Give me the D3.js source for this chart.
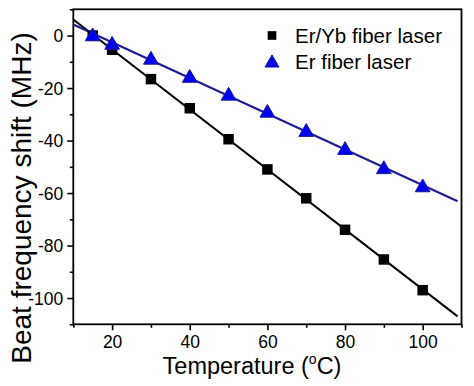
<!DOCTYPE html>
<html><head><meta charset="utf-8">
<script src="https://cdn.jsdelivr.net/npm/d3@7"></script>
<style>body{margin:0;background:#fff}svg{display:block;font-family:"Liberation Sans",Arial,sans-serif}</style>
</head><body>
<script>
const temps = [15, 20, 30, 40, 50, 60, 70, 80, 90, 100];
const erYb = [0, -5.4, -16.6, -27.7, -39.5, -51.0, -62.0, -74.0, -85.3, -97.0];
const er = [0, -3.2, -8.9, -15.8, -22.6, -29.1, -36.4, -43.3, -50.6, -57.5];
const xTicks = [20, 40, 60, 80, 100];
const yTicks = [0, -20, -40, -60, -80, -100];
const seriesNames = ["Er/Yb fiber laser", "Er fiber laser"];
const fitRange = [10, 109];

const W = 474, H = 386;
const m = {l: 73.3, t: 9.3, r: 474 - 461.5, b: 386 - 324.3};
const svg = d3.select("body").append("svg").attr("width", W).attr("height", H);
const x = d3.scaleLinear().domain([10, 110]).range([m.l, W - m.r]);
const y = d3.scaleLinear().domain([-110, 10]).range([H - m.b, m.t]);

function fit(xs, ys) {
  const n = xs.length, mx = d3.mean(xs), my = d3.mean(ys);
  let sxy = 0, sxx = 0;
  for (let i = 0; i < n; i++) { sxy += (xs[i]-mx)*(ys[i]-my); sxx += (xs[i]-mx)**2; }
  const b = sxy / sxx, a = my - b*mx;
  return fitRange.map(t => [t, a + b*t]);
}

// axes
const gx = svg.append("g").attr("transform", `translate(0,${H - m.b})`);
gx.call(d3.axisBottom(x).tickValues(d3.range(10, 111, 10)).tickSize(5).tickFormat(d => xTicks.includes(d) ? d : ""));
gx.selectAll(".tick line").attr("y2", d => xTicks.includes(d) ? 6 : 3.5);
const gy = svg.append("g").attr("transform", `translate(${m.l},0)`);
gy.call(d3.axisLeft(y).tickValues(d3.range(-110, 11, 10)).tickSize(5).tickFormat(d => yTicks.includes(d) ? d : ""));
gy.selectAll(".tick line").attr("x2", d => yTicks.includes(d) ? -6 : -3.5);
[gx, gy].forEach(g => {
  g.select(".domain").remove();
  g.selectAll(".tick line").attr("stroke", "#000").attr("stroke-width", 1.6);
  g.selectAll("text").attr("font-size", 17.5).attr("fill", "#000").attr("font-family", "Liberation Sans, Arial, sans-serif");
});
gx.selectAll("text").attr("dy", "0.71em").attr("y", 11);
gy.selectAll("text").attr("x", -10).attr("dy", "0.35em");

// frame
svg.append("rect").attr("x", m.l).attr("y", m.t).attr("width", W - m.r - m.l).attr("height", H - m.b - m.t)
  .attr("fill", "none").attr("stroke", "#000").attr("stroke-width", 1.8);

const line = d3.line().x(d => x(d[0])).y(d => y(d[1]));
const blueLine = "#1c1c94", blueFill = "#0000f0";

svg.append("path").datum(fit(temps, erYb)).attr("d", line).attr("fill", "none").attr("stroke", "#000").attr("stroke-width", 2);
svg.append("path").datum(fit(temps, er)).attr("d", line).attr("fill", "none").attr("stroke", blueLine).attr("stroke-width", 2.2);

const sq = d3.symbol().type(d3.symbolSquare).size(110);
const tri = d3.symbol().type(d3.symbolTriangle).size(95);

svg.append("g").selectAll("path").data(temps.map((t, i) => [t, erYb[i]])).join("path")
  .attr("d", sq).attr("transform", d => `translate(${x(d[0])},${y(d[1])})`).attr("fill", "#000");
svg.append("g").selectAll("path").data(temps.map((t, i) => [t, er[i]])).join("path")
  .attr("d", tri).attr("transform", d => `translate(${x(d[0])},${y(d[1]) + 1})`)
  .attr("fill", blueFill).attr("stroke", blueLine).attr("stroke-width", 1);

// legend
const lg = svg.append("g");
lg.append("path").attr("d", d3.symbol().type(d3.symbolSquare).size(75)).attr("transform", "translate(272,35.5)").attr("fill", "#000");
lg.append("path").attr("d", d3.symbol().type(d3.symbolTriangle).size(85)).attr("transform", "translate(272,63)").attr("fill", blueFill).attr("stroke", blueLine).attr("stroke-width", 1);
lg.append("text").attr("x", 295).attr("y", 42.5).attr("font-size", 20.5).text(seriesNames[0]);
lg.append("text").attr("x", 295).attr("y", 68.5).attr("font-size", 20.5).text(seriesNames[1]);

// axis titles
const xt = svg.append("text").attr("x", 252).attr("y", 374).attr("text-anchor", "middle").attr("font-size", 23.5);
xt.append("tspan").text("Temperature (");
xt.append("tspan").attr("font-size", 14).attr("dy", -10).text("o");
xt.append("tspan").attr("dy", 10).text("C)");
svg.append("text").attr("transform", "translate(31,198) rotate(-90)").attr("text-anchor", "middle").attr("font-size", 28)
  .text("Beat frequency shift (MHz)");
</script>
</body></html>
